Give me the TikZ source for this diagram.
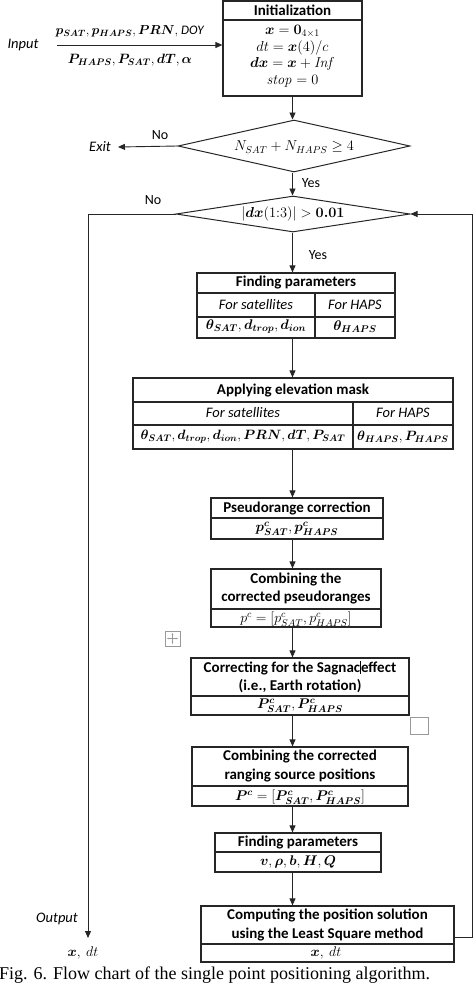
\RequirePackage{fix-cm}
\documentclass[tikz,border=0pt]{standalone}
\usepackage{amsmath,amssymb}
\usepackage[no-math]{fontspec}
\setmainfont{Carlito}
\newfontfamily\capfont{Liberation Serif}
\usetikzlibrary{arrows.meta,shapes.geometric}
\begin{document}
\begin{tikzpicture}[
 x=1pt, y=-1pt,
 box/.style={draw=black!85, line width=1.2pt, inner sep=0pt},
 dv/.style={draw=black!85, line width=1.2pt},
 dia/.style={diamond, draw=black!85, line width=1pt, inner sep=0pt, aspect=4},
 arr/.style={draw=black!85, line width=0.9pt, -{Triangle[length=7pt,width=6pt]}},
 txt/.style={inner sep=0pt, align=center, font=\fontsize{14.4}{18.5}\selectfont},
 mth/.style={inner sep=0pt, align=center, font=\fontsize{14}{16}\selectfont},
 ttl/.style={inner sep=0pt, align=center, font=\fontsize{15}{18.5}\selectfont\bfseries},
 itx/.style={inner sep=0pt, align=center, font=\fontsize{14.5}{18.5}\selectfont\itshape},
 lbl/.style={inner sep=0pt, align=center, font=\fontsize{14}{18}\selectfont},
 art/.style={draw=black!40, line width=0.6pt},
]
\useasboundingbox (0,0) rectangle (474,988);

% ---------- Initialization ----------
\node[box, minimum width=139pt, minimum height=95pt] (init) at (292.5,48.5) {};
\draw[dv] (223,20) -- (362,20);
\node[ttl] at (292.5,10.5) {Initialization};
\node[txt] at (292.5,31) {$\boldsymbol{x}=\boldsymbol{0}_{4\times1}$};
\node[txt] at (292.5,48) {$dt=\boldsymbol{x}(4)/c$};
\node[txt] at (292.5,64) {$\boldsymbol{dx}=\boldsymbol{x}+\mathit{Inf}$};
\node[txt] at (292.5,81) {$\mathit{stop}=0$};

% input
\node[itx] (inp) at (23,45) {Input};
\coordinate (inst) at (57,45);
\draw[arr] (inst) -- (init.west |- inst);
\node[mth, font=\fontsize{13}{16}\selectfont] at (130,31) {$\boldsymbol{p_{SAT}}, \boldsymbol{p_{HAPS}}, \boldsymbol{PRN},$ \textit{DOY}};
\node[mth, font=\fontsize{13.5}{16}\selectfont] at (130,60) {$\boldsymbol{P_{HAPS}}, \boldsymbol{P_{SAT}}, \boldsymbol{dT}, \boldsymbol{\alpha}$};

% ---------- Decision 1 ----------
\node[dia, minimum width=232pt, minimum height=52pt] (d1) at (294,146) {};
\node[txt] at (294,147) {$N_{SAT}+N_{HAPS}\geq 4$};
\node[itx, inner sep=7pt] (exit) at (100,147) {Exit};
\draw[arr] (d1.west) -- (exit.east);
\node[lbl] at (160,135) {No};
\draw[arr] (init.south) -- (init.south |- d1.north);

% ---------- Decision 2 ----------
\node[dia, minimum width=234pt, minimum height=36pt] (d2) at (293,214) {};
\node[txt] at (293,214) {$|\boldsymbol{dx}(1{:}3)|>\boldsymbol{0.01}$};
\draw[arr] (init.south |- d1.south) -- (init.south |- d2.north);
\node[lbl] at (311,183) {Yes};
\node[lbl] at (153,200) {No};
\node[lbl] at (318,255) {Yes};

% ---------- Finding parameters 1 ----------
\node[box, minimum width=198pt, minimum height=65pt] (fp1) at (296,305.5) {};
\draw[dv] (197,293) -- (395,293);
\draw[dv] (197,317) -- (395,317);
\draw[dv] (315,293) -- (315,338);
\node[ttl] at (296,283) {Finding parameters};
\node[itx] at (256,305) {For satellites};
\node[itx] at (355,305) {For HAPS};
\node[mth] at (256,327) {$\boldsymbol{\theta_{SAT}}, \boldsymbol{d_{trop}}, \boldsymbol{d_{ion}}$};
\node[mth] at (355,327) {$\boldsymbol{\theta_{HAPS}}$};
\draw[arr] (init.south |- d2.south) -- (init.south |- fp1.north);

% ---------- Applying elevation mask ----------
\node[box, minimum width=320pt, minimum height=71pt] (app) at (293,413.5) {};
\draw[dv] (133,402) -- (453,402);
\draw[dv] (133,425) -- (453,425);
\draw[dv] (353,402) -- (353,449);
\node[ttl] at (293,390) {Applying elevation mask};
\node[itx] at (243,413) {For satellites};
\node[itx] at (403,413) {For HAPS};
\node[mth, font=\fontsize{13.5}{16}\selectfont] at (243,437) {$\boldsymbol{\theta_{SAT}}, \boldsymbol{d_{trop}}, \boldsymbol{d_{ion}}, \boldsymbol{PRN}, \boldsymbol{dT}, \boldsymbol{P_{SAT}}$};
\node[mth, font=\fontsize{13.5}{16}\selectfont] at (403,437) {$\boldsymbol{\theta_{HAPS}}, \boldsymbol{P_{HAPS}}$};
\draw[arr] (init.south |- fp1.south) -- (init.south |- app.north);

% ---------- Pseudorange correction ----------
\node[box, minimum width=172pt, minimum height=41pt] (pc) at (297,518.5) {};
\draw[dv] (211,518) -- (383,518);
\node[ttl] at (297,508) {Pseudorange correction};
\node[mth] at (297,529) {$\boldsymbol{p^{c}_{SAT}}, \boldsymbol{p^{c}_{HAPS}}$};
\draw[arr] (init.south |- app.south) -- (init.south |- pc.north);

% ---------- Combining pseudoranges ----------
\node[box, minimum width=170pt, minimum height=58pt] (cb1) at (296,598) {};
\draw[dv] (211,609) -- (381,609);
\node[ttl] at (296,588.5) {Combining the\\corrected pseudoranges};
\node[mth] at (296,619) {$p^{c}=[p^{c}_{SAT}, p^{c}_{HAPS}]$};
\draw[arr] (init.south |- pc.south) -- (init.south |- cb1.north);

% ---------- Sagnac ----------
\node[box, minimum width=218pt, minimum height=57pt] (sag) at (300,686.5) {};
\draw[dv] (191,696) -- (409,696);
\node[ttl] at (300,677) {Correcting for the Sagnac\rule[-2pt]{0.8pt}{13pt}effect\\(i.e., Earth rotation)};
\node[mth] at (300,706) {$\boldsymbol{P^{c}_{SAT}}, \boldsymbol{P^{c}_{HAPS}}$};
\draw[arr] (init.south |- cb1.south) -- (init.south |- sag.north);

% ---------- Combining positions ----------
\node[box, minimum width=216pt, minimum height=59pt] (cb2) at (300,776.5) {};
\draw[dv] (192,786) -- (408,786);
\node[ttl] at (300,766) {Combining the corrected\\ranging source positions};
\node[mth] at (300,797) {$\boldsymbol{P^{c}}=[\boldsymbol{P^{c}_{SAT}}, \boldsymbol{P^{c}_{HAPS}}]$};
\draw[arr] (init.south |- sag.south) -- (init.south |- cb2.north);

% ---------- Finding parameters 2 ----------
\node[box, minimum width=166pt, minimum height=39pt] (fp2) at (298,852.5) {};
\draw[dv] (215,852) -- (381,852);
\node[ttl] at (298,842) {Finding parameters};
\node[mth] at (298,862) {$\boldsymbol{v}, \boldsymbol{\rho}, \boldsymbol{b}, \boldsymbol{H}, \boldsymbol{Q}$};
\draw[arr] (init.south |- cb2.south) -- (init.south |- fp2.north);

% ---------- Computing ----------
\node[box, minimum width=253pt, minimum height=56pt] (comp) at (327.5,934) {};
\draw[dv] (201,944) -- (454,944);
\node[ttl] at (327.5,925) {Computing the position solution\\using the Least Square method};
\node[mth] at (326,953) {$\boldsymbol{x},\ dt$};
\draw[arr] (init.south |- fp2.south) -- (init.south |- comp.north);

% loop back
\draw[arr] ([yshift=-3pt]comp.east) -- ++(18,0) |- (d2.east);

% output
\node[mth, anchor=north] (out) at (83,947) {$\boldsymbol{x},\ dt$};
\node[itx] at (57,919) {Output};
\draw[arr] (d2.west) -| ([xshift=5pt,yshift=9pt]out.north);

% editor artefacts
\draw[art] (165,631) rectangle (180,646);
\draw[art, {Stealth[length=2pt]}-{Stealth[length=2pt]}] (167,638.5) -- (178,638.5);
\draw[art, {Stealth[length=2pt]}-{Stealth[length=2pt]}] (172.5,633) -- (172.5,644);
\draw[art] (410,717) rectangle (428,734);

% caption
\node[anchor=west, inner sep=0pt, font=\capfont\fontsize{18}{20}\selectfont] (cap) at (-1,975) {Fig. 6. Flow chart of the single point positioning algorithm.};
\end{tikzpicture}
\end{document}
